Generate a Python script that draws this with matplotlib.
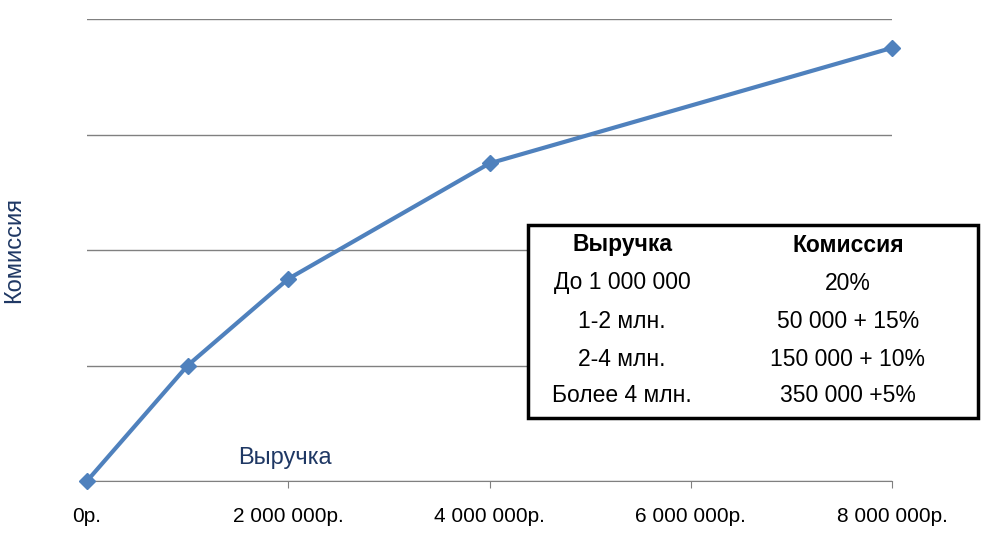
import matplotlib
matplotlib.use("Agg")
import matplotlib.pyplot as plt
from matplotlib.patches import Rectangle

revenue = [0, 1_000_000, 2_000_000, 4_000_000, 8_000_000]
commission = [0, 200_000, 350_000, 550_000, 750_000]
xticks = [0, 2_000_000, 4_000_000, 6_000_000, 8_000_000]
xlabels = ["0р.", "2 000 000р.", "4 000 000р.", "6 000 000р.", "8 000 000р."]
table_head = ["Выручка", "Комиссия"]
table_rows = [["До 1 000 000", "20%"], ["1-2 млн.", "50 000 + 15%"],
              ["2-4 млн.", "150 000 + 10%"], ["Более 4 млн.", "350 000 +5%"]]

plt.rcParams['font.family'] = ['Liberation Sans', 'DejaVu Sans']
fig = plt.figure(figsize=(9.86, 5.6), dpi=100)
ax = fig.add_axes([87/986, 1-481/560, (892-87)/986, (481-19)/560])
ax.plot(revenue, commission, color="#4F81BD", lw=3, marker="D", ms=8, zorder=3, clip_on=False)
ax.set_xlim(0, 8_000_000)
ax.set_ylim(0, 800_000)
ax.set_yticks([0, 200_000, 400_000, 600_000, 800_000])
ax.set_yticklabels([])
ax.tick_params(axis='y', length=0)
ax.grid(axis='y', color="#808080", lw=1)
ax.set_xticks(xticks)
ax.set_xticklabels(xlabels, fontsize=15)
ax.tick_params(axis='x', direction='out', length=5, color="#808080", pad=14)
for s in ['top', 'right', 'left']:
    ax.spines[s].set_visible(False)
ax.spines['bottom'].set_color("#808080")
ax.set_axisbelow(True)

fig.text(285/986, 1-458/560, "Выручка", fontsize=17, color="#1F3864", ha='center', va='center')
fig.text(14/986, 1-250/560, "Комиссия", fontsize=17, color="#1F3864", rotation=90, ha='center', va='center')

fig.patches.append(Rectangle((528/986, 1-418/560), (978-528)/986, (418-225)/560,
                             transform=fig.transFigure, fill=True, fc='white', ec='black', lw=2.5, zorder=5))
cols = [622/986, 848/986]
ys = [245, 283, 321, 360, 396]
for c, h in zip(cols, table_head):
    fig.text(c, 1-ys[0]/560, h, fontsize=16.5, fontweight='bold', ha='center', va='center', zorder=6)
for y, row in zip(ys[1:], table_rows):
    for c, t in zip(cols, row):
        fig.text(c, 1-y/560, t, fontsize=16.5, ha='center', va='center', zorder=6)

fig.savefig("out.png", dpi=100)
